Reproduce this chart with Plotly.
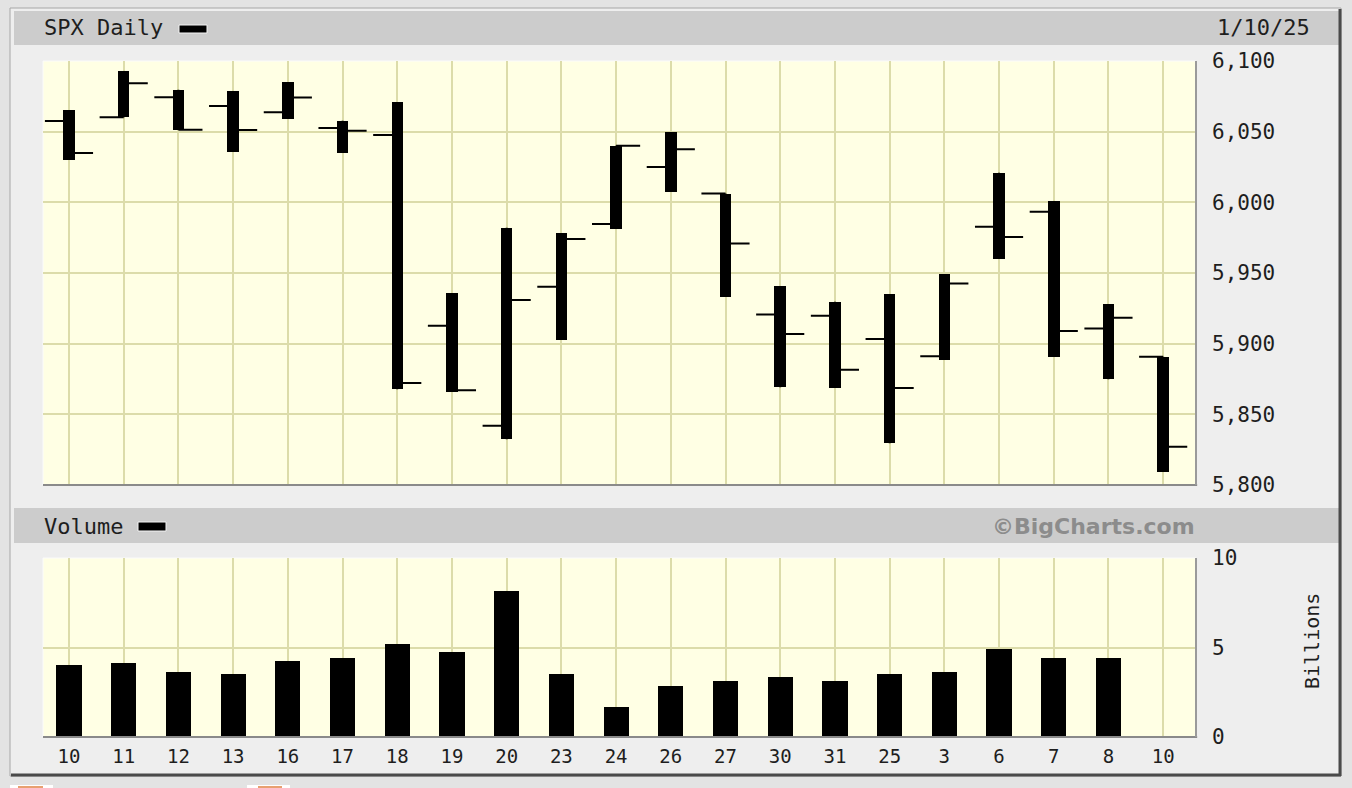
import plotly.graph_objects as go

# ── Dados (SPX diário, 10/dez/24 – 10/jan/25) ────────────────────────────────
dias = ["10", "11", "12", "13", "16", "17", "18", "19", "20", "23", "24",
        "26", "27", "30", "31", "25", "3", "6", "7", "8", "10"]

abertura = [6057.6, 6060.2, 6074.3, 6068.2, 6063.8, 6052.6, 6047.7, 5912.7,
            5842.0, 5940.3, 5984.7, 6025.0, 6006.2, 5920.7, 5919.7, 5903.3,
            5891.1, 5982.8, 5993.3, 5910.7, 5890.7]
maxima = [6065.4, 6092.6, 6079.7, 6078.6, 6085.2, 6057.7, 6070.7, 5935.5,
          5982.1, 5978.3, 6040.1, 6049.8, 6006.2, 5940.8, 5929.7, 5935.1,
          5949.3, 6021.0, 6000.7, 5927.9, 5890.7]
minima = [6029.9, 6060.2, 6051.3, 6035.8, 6059.1, 6035.2, 5867.8, 5866.1,
          5832.3, 5902.6, 5981.4, 6007.4, 5933.0, 5869.2, 5868.9, 5829.5,
          5888.7, 5960.0, 5890.7, 5874.8, 5809.2]
fechamento = [6034.9, 6084.2, 6051.3, 6051.1, 6074.1, 6050.6, 5872.2, 5867.1,
              5930.9, 5974.1, 6040.0, 6037.6, 5970.8, 5906.9, 5881.6, 5868.6,
              5942.5, 5975.4, 5909.0, 5918.3, 5827.0]

volume_bi = [4.02, 4.15, 3.63, 3.51, 4.26, 4.39, 5.18, 4.76, 8.13, 3.50, 1.68,
             2.86, 3.12, 3.36, 3.12, 3.50, 3.63, 4.92, 4.39, 4.39, None]

ticks_preco = [5800, 5850, 5900, 5950, 6000, 6050, 6100]
ticks_volume = [0, 5, 10]

W, H = 1352, 788
FONTE = "DejaVu Sans Mono"
AMARELO = "#ffffe4"
GRADE = "#dcdcaa"
FUNDO = "#e3e3e3"


def fx(x):
    return x / W


def fy(y):
    return 1 - y / H


idx = list(range(len(dias)))
amplitude = [h - l for h, l in zip(maxima, minima)]

fig = go.Figure()

# ── Preço: ticks de abertura/fechamento + corpo grosso ───────────────────────
fig.add_trace(go.Ohlc(
    x=idx, open=abertura, high=maxima, low=minima, close=fechamento,
    tickwidth=0.44,
    increasing=dict(line=dict(color="black", width=2)),
    decreasing=dict(line=dict(color="black", width=2)),
    xaxis="x", yaxis="y", showlegend=False, hoverinfo="skip",
))
fig.add_trace(go.Bar(
    x=idx, y=amplitude, base=minima, width=0.21,
    marker=dict(color="black", line_width=0),
    xaxis="x", yaxis="y", showlegend=False, hoverinfo="skip",
))

# ── Volume ───────────────────────────────────────────────────────────────────
fig.add_trace(go.Bar(
    x=idx, y=volume_bi, width=0.46,
    marker=dict(color="black", line_width=0),
    xaxis="x2", yaxis="y2", showlegend=False, hoverinfo="skip",
))

dom_x = [fx(43), fx(1196)]
faixa_x = [-0.475, 20.6]
eixo_x = dict(
    domain=dom_x, range=faixa_x, tickmode="array", tickvals=idx,
    showgrid=True, gridcolor=GRADE, gridwidth=2, zeroline=False,
    showline=False, ticks="", fixedrange=True, automargin=False,
)

shapes = [
    # moldura externa
    dict(type="rect", xref="paper", yref="paper", layer="below",
         x0=fx(10), x1=fx(1341), y0=fy(776), y1=fy(8),
         fillcolor="#eeeeee", line=dict(color="#a6a6a6", width=1)),
    # faixas de título
    dict(type="rect", xref="paper", yref="paper", layer="below",
         x0=fx(14), x1=fx(1339), y0=fy(45), y1=fy(11),
         fillcolor="#cccccc", line_width=0),
    dict(type="rect", xref="paper", yref="paper", layer="below",
         x0=fx(14), x1=fx(1339), y0=fy(543), y1=fy(508),
         fillcolor="#cccccc", line_width=0),
    # bordas escuras (direita / inferior)
    dict(type="line", xref="paper", yref="paper", layer="above",
         x0=fx(1340), x1=fx(1340), y0=fy(776), y1=fy(9),
         line=dict(color="#4a4a4a", width=3)),
    dict(type="line", xref="paper", yref="paper", layer="above",
         x0=fx(11), x1=fx(1341), y0=fy(775), y1=fy(775),
         line=dict(color="#4a4a4a", width=3)),
    # símbolos de legenda
    dict(type="rect", xref="paper", yref="paper", layer="above",
         x0=fx(179), x1=fx(207), y0=fy(33), y1=fy(25),
         fillcolor="black", line=dict(color="#f4f4f4", width=1)),
    dict(type="rect", xref="paper", yref="paper", layer="above",
         x0=fx(138), x1=fx(166), y0=fy(531), y1=fy(522),
         fillcolor="black", line=dict(color="#f4f4f4", width=1)),
    # ícones cortados no rodapé
    dict(type="rect", xref="paper", yref="paper", layer="above",
         x0=fx(10), x1=fx(53), y0=fy(792), y1=fy(785),
         fillcolor="white", line_width=0),
    dict(type="rect", xref="paper", yref="paper", layer="above",
         x0=fx(18), x1=fx(43), y0=fy(792), y1=fy(786),
         fillcolor="#e8a070", line_width=0),
    dict(type="rect", xref="paper", yref="paper", layer="above",
         x0=fx(247), x1=fx(290), y0=fy(792), y1=fy(785),
         fillcolor="white", line_width=0),
    dict(type="rect", xref="paper", yref="paper", layer="above",
         x0=fx(258), x1=fx(282), y0=fy(792), y1=fy(786),
         fillcolor="#e8a070", line_width=0),
]

# fundo amarelo e bordas de cada painel
for xa, ya in [("x", "y"), ("x2", "y2")]:
    shapes += [
        dict(type="rect", xref=f"{xa} domain", yref=f"{ya} domain", layer="below",
             x0=0, x1=1, y0=0, y1=1, fillcolor=AMARELO,
             line=dict(color="#fbfbfb", width=1)),
        dict(type="line", xref=f"{xa} domain", yref=f"{ya} domain", layer="above",
             x0=0, x1=1.001, y0=0, y1=0, line=dict(color="#8a8a8a", width=2)),
        dict(type="line", xref=f"{xa} domain", yref=f"{ya} domain", layer="above",
             x0=1, x1=1, y0=0, y1=1, line=dict(color="#9a9a9a", width=2)),
    ]

texto = dict(family=FONTE, size=22, color="#1e1e1e")
annotations = [
    dict(text="SPX Daily", x=fx(42), y=fy(28), xanchor="left", yanchor="middle",
         font=texto),
    dict(text="1/10/25", x=fx(1215), y=fy(28), xanchor="left", yanchor="middle",
         font=texto),
    dict(text="Volume", x=fx(42), y=fy(526), xanchor="left", yanchor="middle",
         font=texto),
    dict(text="<b>©BigCharts.com</b>", x=fx(1197), y=fy(526), xanchor="right",
         yanchor="middle", font=dict(family="DejaVu Sans", size=22, color="#8c8c8c")),
    dict(text="Billions", x=fx(1312), y=fy(641), xanchor="center", yanchor="middle",
         textangle=-90, font=dict(family=FONTE, size=20, color="#1e1e1e")),
]
for a in annotations:
    a.update(xref="paper", yref="paper", showarrow=False)

fonte_ticks = dict(family=FONTE, size=21, color="#1e1e1e")
fig.update_layout(
    width=W, height=H, margin=dict(l=0, r=0, t=0, b=0, autoexpand=False),
    paper_bgcolor=FUNDO, plot_bgcolor="rgba(0,0,0,0)",
    barmode="overlay", bargap=0, showlegend=False,
    xaxis=dict(eixo_x, showticklabels=False, rangeslider=dict(visible=False),
               anchor="y"),
    xaxis2=dict(eixo_x, showticklabels=True, ticktext=dias, anchor="y2",
                ticklabelstandoff=6, tickfont=dict(fonte_ticks, size=19)),
    yaxis=dict(domain=[fy(485), fy(61)], range=[5800, 6100], side="right",
               tickmode="array", tickvals=ticks_preco, tickformat=",",
               showgrid=True, gridcolor=GRADE, gridwidth=2, zeroline=False,
               ticks="", ticklabelstandoff=15, anchor="x", fixedrange=True,
               automargin=False, tickfont=fonte_ticks),
    yaxis2=dict(domain=[fy(737), fy(558)], range=[0, 10], side="right",
                tickmode="array", tickvals=ticks_volume,
                showgrid=True, gridcolor=GRADE, gridwidth=2, zeroline=False,
                ticks="", ticklabelstandoff=15, anchor="x2", fixedrange=True,
                automargin=False, tickfont=fonte_ticks),
    shapes=shapes, annotations=annotations,
)

# página sem margem do <body>, para a figura começar no canto (0, 0)
fig.write_html(
    "out.html",
    config={"displayModeBar": False},
    post_script=(
        "document.body.style.margin='0';"
        f"document.body.style.background='{FUNDO}';"
    ),
)
